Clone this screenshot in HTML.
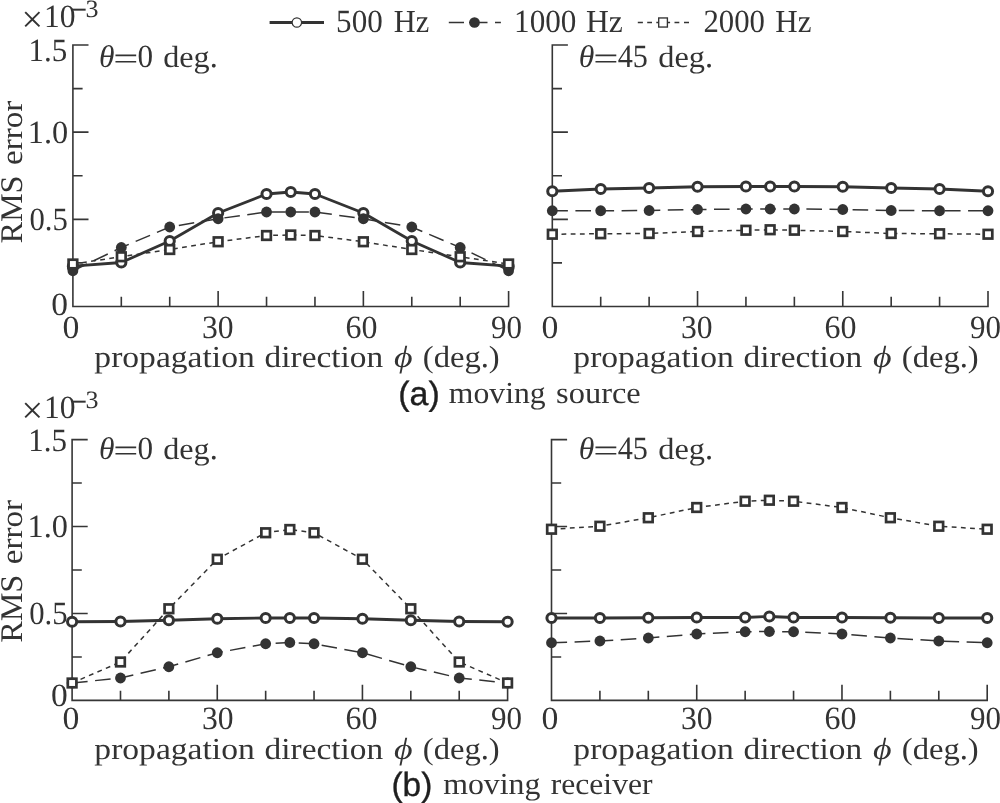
<!DOCTYPE html>
<html lang="en"><head><meta charset="utf-8"><title>RMS error vs propagation direction</title>
<style>
html,body{margin:0;padding:0;background:#fff}
svg{display:block}
text{fill:#333;font-family:"Liberation Serif", serif;font-size:30.5px;font-kerning:none;font-variant-ligatures:none;text-rendering:geometricPrecision}
.sans{font-family:"Liberation Sans", sans-serif;font-size:33.5px;fill:#1e1e1e;stroke:#1e1e1e;stroke-width:0.35px}
.sup{font-size:25.0px}
.d{font-size:32.5px}
.c{font-size:31.5px}
.h{font-size:32.0px}
.it{font-style:italic}
.ax{fill:none;stroke:#363636;stroke-width:1.6}
.lc{fill:none;stroke:#333;stroke-width:2.8;stroke-linejoin:round}
.lf{fill:none;stroke:#333;stroke-width:1.5;stroke-dasharray:15.6 7.5}
.ls{fill:none;stroke:#333;stroke-width:1.5;stroke-dasharray:4.8 4.4}
.mc{fill:#fff;stroke:#333;stroke-width:3.0}
.mf{fill:#333;stroke:none}
.ms{fill:#fff;stroke:#333;stroke-width:2.7}
</style></head>
<body>
<svg width="1000" height="803" viewBox="0 0 1000 803">
<rect width="1000" height="803" fill="#fff"/>
<g id="TL">
<path class="ax" d="M88.5 45H72.9V306.5H508.6V290.9M72.9 88.58h9.7M72.9 132.17h15.6M72.9 175.75h9.7M72.9 219.33h15.6M72.9 262.92h9.7M121.31 306.5v-9.7M169.72 306.5v-9.7M218.13 306.5v-15.6M266.54 306.5v-9.7M314.96 306.5v-9.7M363.37 306.5v-15.6M411.78 306.5v-9.7M460.19 306.5v-9.7"/>
<polyline class="lc" points="72.9,266.2 121.31,262.5 169.72,241 218.13,213 266.54,194 290.75,192 314.96,194 363.37,213 411.78,241 460.19,262.5 508.6,266.2"/>
<circle class="mc" cx="72.9" cy="266.2" r="4.6"/><circle class="mc" cx="121.31" cy="262.5" r="4.6"/><circle class="mc" cx="169.72" cy="241" r="4.6"/><circle class="mc" cx="218.13" cy="213" r="4.6"/><circle class="mc" cx="266.54" cy="194" r="4.6"/><circle class="mc" cx="290.75" cy="192" r="4.6"/><circle class="mc" cx="314.96" cy="194" r="4.6"/><circle class="mc" cx="363.37" cy="213" r="4.6"/><circle class="mc" cx="411.78" cy="241" r="4.6"/><circle class="mc" cx="460.19" cy="262.5" r="4.6"/><circle class="mc" cx="508.6" cy="266.2" r="4.6"/>
<polyline class="lf" points="72.9,270.75 121.31,247.5 169.72,227 218.13,218.75 266.54,212 290.75,212 314.96,212 363.37,218.75 411.78,227 460.19,247.5 508.6,270.75"/>
<circle class="mf" cx="72.9" cy="270.75" r="5.4"/><circle class="mf" cx="121.31" cy="247.5" r="5.4"/><circle class="mf" cx="169.72" cy="227" r="5.4"/><circle class="mf" cx="218.13" cy="218.75" r="5.4"/><circle class="mf" cx="266.54" cy="212" r="5.4"/><circle class="mf" cx="290.75" cy="212" r="5.4"/><circle class="mf" cx="314.96" cy="212" r="5.4"/><circle class="mf" cx="363.37" cy="218.75" r="5.4"/><circle class="mf" cx="411.78" cy="227" r="5.4"/><circle class="mf" cx="460.19" cy="247.5" r="5.4"/><circle class="mf" cx="508.6" cy="270.75" r="5.4"/>
<polyline class="ls" points="72.9,264 121.31,256.75 169.72,249.5 218.13,241.75 266.54,235.5 290.75,235 314.96,235.5 363.37,241.75 411.78,249.5 460.19,256.75 508.6,264"/>
<rect class="ms" x="68.6" y="259.7" width="8.6" height="8.6"/><rect class="ms" x="117.01" y="252.45" width="8.6" height="8.6"/><rect class="ms" x="165.42" y="245.2" width="8.6" height="8.6"/><rect class="ms" x="213.83" y="237.45" width="8.6" height="8.6"/><rect class="ms" x="262.24" y="231.2" width="8.6" height="8.6"/><rect class="ms" x="286.45" y="230.7" width="8.6" height="8.6"/><rect class="ms" x="310.66" y="231.2" width="8.6" height="8.6"/><rect class="ms" x="359.07" y="237.45" width="8.6" height="8.6"/><rect class="ms" x="407.48" y="245.2" width="8.6" height="8.6"/><rect class="ms" x="455.89" y="252.45" width="8.6" height="8.6"/><rect class="ms" x="504.3" y="259.7" width="8.6" height="8.6"/>
</g>
<g id="TR">
<path class="ax" d="M567.9 45H552.3V306.5H988V290.9M552.3 88.58h9.7M552.3 132.17h15.6M552.3 175.75h9.7M552.3 219.33h15.6M552.3 262.92h9.7M600.71 306.5v-9.7M649.12 306.5v-9.7M697.53 306.5v-15.6M745.94 306.5v-9.7M794.36 306.5v-9.7M842.77 306.5v-15.6M891.18 306.5v-9.7M939.59 306.5v-9.7"/>
<polyline class="lc" points="552.3,191.25 600.71,189 649.12,188 697.53,186.75 745.94,186.5 770.15,186.5 794.36,186.5 842.77,186.75 891.18,188 939.59,189 988,191.25"/>
<circle class="mc" cx="552.3" cy="191.25" r="4.6"/><circle class="mc" cx="600.71" cy="189" r="4.6"/><circle class="mc" cx="649.12" cy="188" r="4.6"/><circle class="mc" cx="697.53" cy="186.75" r="4.6"/><circle class="mc" cx="745.94" cy="186.5" r="4.6"/><circle class="mc" cx="770.15" cy="186.5" r="4.6"/><circle class="mc" cx="794.36" cy="186.5" r="4.6"/><circle class="mc" cx="842.77" cy="186.75" r="4.6"/><circle class="mc" cx="891.18" cy="188" r="4.6"/><circle class="mc" cx="939.59" cy="189" r="4.6"/><circle class="mc" cx="988" cy="191.25" r="4.6"/>
<polyline class="lf" points="552.3,210.75 600.71,210.75 649.12,210.5 697.53,209.5 745.94,209 770.15,209 794.36,209 842.77,209.5 891.18,210.5 939.59,210.75 988,210.75"/>
<circle class="mf" cx="552.3" cy="210.75" r="5.4"/><circle class="mf" cx="600.71" cy="210.75" r="5.4"/><circle class="mf" cx="649.12" cy="210.5" r="5.4"/><circle class="mf" cx="697.53" cy="209.5" r="5.4"/><circle class="mf" cx="745.94" cy="209" r="5.4"/><circle class="mf" cx="770.15" cy="209" r="5.4"/><circle class="mf" cx="794.36" cy="209" r="5.4"/><circle class="mf" cx="842.77" cy="209.5" r="5.4"/><circle class="mf" cx="891.18" cy="210.5" r="5.4"/><circle class="mf" cx="939.59" cy="210.75" r="5.4"/><circle class="mf" cx="988" cy="210.75" r="5.4"/>
<polyline class="ls" points="552.3,234.25 600.71,233.75 649.12,233.5 697.53,231.5 745.94,230.25 770.15,229.75 794.36,230.25 842.77,231.5 891.18,233.5 939.59,233.75 988,234.25"/>
<rect class="ms" x="548" y="229.95" width="8.6" height="8.6"/><rect class="ms" x="596.41" y="229.45" width="8.6" height="8.6"/><rect class="ms" x="644.82" y="229.2" width="8.6" height="8.6"/><rect class="ms" x="693.23" y="227.2" width="8.6" height="8.6"/><rect class="ms" x="741.64" y="225.95" width="8.6" height="8.6"/><rect class="ms" x="765.85" y="225.45" width="8.6" height="8.6"/><rect class="ms" x="790.06" y="225.95" width="8.6" height="8.6"/><rect class="ms" x="838.47" y="227.2" width="8.6" height="8.6"/><rect class="ms" x="886.88" y="229.2" width="8.6" height="8.6"/><rect class="ms" x="935.29" y="229.45" width="8.6" height="8.6"/><rect class="ms" x="983.7" y="229.95" width="8.6" height="8.6"/>
</g>
<g id="BL">
<path class="ax" d="M87.7 439.6H72.1V700.4H507.6V684.8M72.1 483.07h9.7M72.1 526.53h15.6M72.1 570h9.7M72.1 613.47h15.6M72.1 656.93h9.7M120.49 700.4v-9.7M168.88 700.4v-9.7M217.27 700.4v-15.6M265.66 700.4v-9.7M314.04 700.4v-9.7M362.43 700.4v-15.6M410.82 700.4v-9.7M459.21 700.4v-9.7"/>
<polyline class="lc" points="72.1,621.75 120.49,621.5 168.88,620.25 217.27,618.75 265.66,618 289.85,618 314.04,618 362.43,618.75 410.82,620.25 459.21,621.5 507.6,621.75"/>
<circle class="mc" cx="72.1" cy="621.75" r="4.6"/><circle class="mc" cx="120.49" cy="621.5" r="4.6"/><circle class="mc" cx="168.88" cy="620.25" r="4.6"/><circle class="mc" cx="217.27" cy="618.75" r="4.6"/><circle class="mc" cx="265.66" cy="618" r="4.6"/><circle class="mc" cx="289.85" cy="618" r="4.6"/><circle class="mc" cx="314.04" cy="618" r="4.6"/><circle class="mc" cx="362.43" cy="618.75" r="4.6"/><circle class="mc" cx="410.82" cy="620.25" r="4.6"/><circle class="mc" cx="459.21" cy="621.5" r="4.6"/><circle class="mc" cx="507.6" cy="621.75" r="4.6"/>
<polyline class="lf" points="72.1,683 120.49,678 168.88,666.75 217.27,652.75 265.66,643.75 289.85,642.5 314.04,643.75 362.43,652.75 410.82,666.75 459.21,678 507.6,683"/>
<circle class="mf" cx="72.1" cy="683" r="5.4"/><circle class="mf" cx="120.49" cy="678" r="5.4"/><circle class="mf" cx="168.88" cy="666.75" r="5.4"/><circle class="mf" cx="217.27" cy="652.75" r="5.4"/><circle class="mf" cx="265.66" cy="643.75" r="5.4"/><circle class="mf" cx="289.85" cy="642.5" r="5.4"/><circle class="mf" cx="314.04" cy="643.75" r="5.4"/><circle class="mf" cx="362.43" cy="652.75" r="5.4"/><circle class="mf" cx="410.82" cy="666.75" r="5.4"/><circle class="mf" cx="459.21" cy="678" r="5.4"/><circle class="mf" cx="507.6" cy="683" r="5.4"/>
<polyline class="ls" points="72.1,683 120.49,662 168.88,608.75 217.27,559.25 265.66,532.75 289.85,529.5 314.04,532.75 362.43,559.25 410.82,608.75 459.21,662 507.6,683"/>
<rect class="ms" x="67.8" y="678.7" width="8.6" height="8.6"/><rect class="ms" x="116.19" y="657.7" width="8.6" height="8.6"/><rect class="ms" x="164.58" y="604.45" width="8.6" height="8.6"/><rect class="ms" x="212.97" y="554.95" width="8.6" height="8.6"/><rect class="ms" x="261.36" y="528.45" width="8.6" height="8.6"/><rect class="ms" x="285.55" y="525.2" width="8.6" height="8.6"/><rect class="ms" x="309.74" y="528.45" width="8.6" height="8.6"/><rect class="ms" x="358.13" y="554.95" width="8.6" height="8.6"/><rect class="ms" x="406.52" y="604.45" width="8.6" height="8.6"/><rect class="ms" x="454.91" y="657.7" width="8.6" height="8.6"/><rect class="ms" x="503.3" y="678.7" width="8.6" height="8.6"/>
</g>
<g id="BR">
<path class="ax" d="M567.1 439.6H551.5V700.4H987.2V684.8M551.5 483.07h9.7M551.5 526.53h15.6M551.5 570h9.7M551.5 613.47h15.6M551.5 656.93h9.7M599.91 700.4v-9.7M648.32 700.4v-9.7M696.73 700.4v-15.6M745.14 700.4v-9.7M793.56 700.4v-9.7M841.97 700.4v-15.6M890.38 700.4v-9.7M938.79 700.4v-9.7"/>
<polyline class="lc" points="551.5,618 599.91,618 648.32,617.75 696.73,617.5 745.14,617.5 769.35,616.5 793.56,617.5 841.97,617.5 890.38,617.75 938.79,618 987.2,618"/>
<circle class="mc" cx="551.5" cy="618" r="4.6"/><circle class="mc" cx="599.91" cy="618" r="4.6"/><circle class="mc" cx="648.32" cy="617.75" r="4.6"/><circle class="mc" cx="696.73" cy="617.5" r="4.6"/><circle class="mc" cx="745.14" cy="617.5" r="4.6"/><circle class="mc" cx="769.35" cy="616.5" r="4.6"/><circle class="mc" cx="793.56" cy="617.5" r="4.6"/><circle class="mc" cx="841.97" cy="617.5" r="4.6"/><circle class="mc" cx="890.38" cy="617.75" r="4.6"/><circle class="mc" cx="938.79" cy="618" r="4.6"/><circle class="mc" cx="987.2" cy="618" r="4.6"/>
<polyline class="lf" points="551.5,642.75 599.91,641 648.32,638 696.73,634 745.14,631.75 769.35,631.5 793.56,631.75 841.97,634 890.38,638 938.79,641 987.2,642.75"/>
<circle class="mf" cx="551.5" cy="642.75" r="5.4"/><circle class="mf" cx="599.91" cy="641" r="5.4"/><circle class="mf" cx="648.32" cy="638" r="5.4"/><circle class="mf" cx="696.73" cy="634" r="5.4"/><circle class="mf" cx="745.14" cy="631.75" r="5.4"/><circle class="mf" cx="769.35" cy="631.5" r="5.4"/><circle class="mf" cx="793.56" cy="631.75" r="5.4"/><circle class="mf" cx="841.97" cy="634" r="5.4"/><circle class="mf" cx="890.38" cy="638" r="5.4"/><circle class="mf" cx="938.79" cy="641" r="5.4"/><circle class="mf" cx="987.2" cy="642.75" r="5.4"/>
<polyline class="ls" points="551.5,529.25 599.91,526.25 648.32,517.75 696.73,507.5 745.14,501.25 769.35,500.25 793.56,501.25 841.97,507.5 890.38,517.75 938.79,526.25 987.2,529.25"/>
<rect class="ms" x="547.2" y="524.95" width="8.6" height="8.6"/><rect class="ms" x="595.61" y="521.95" width="8.6" height="8.6"/><rect class="ms" x="644.02" y="513.45" width="8.6" height="8.6"/><rect class="ms" x="692.43" y="503.2" width="8.6" height="8.6"/><rect class="ms" x="740.84" y="496.95" width="8.6" height="8.6"/><rect class="ms" x="765.05" y="495.95" width="8.6" height="8.6"/><rect class="ms" x="789.26" y="496.95" width="8.6" height="8.6"/><rect class="ms" x="837.67" y="503.2" width="8.6" height="8.6"/><rect class="ms" x="886.08" y="513.45" width="8.6" height="8.6"/><rect class="ms" x="934.49" y="521.95" width="8.6" height="8.6"/><rect class="ms" x="982.9" y="524.95" width="8.6" height="8.6"/>
</g>
<g id="legend">
<path class="lc" d="M269.6 22.5H324"/><circle cx="296.85" cy="22.5" r="4.7" fill="#fff" stroke="#333" stroke-width="1.15"/>
<path d="M448.8 22.5H464M469 22.5H487.5M495 22.5H500.9" fill="none" stroke="#333" stroke-width="1.5"/><circle cx="474.5" cy="22.5" r="5.35" fill="#333"/>
<path d="M637.8 22.5H642.9M647.2 22.5H652M656.3 22.5H670.1M674.5 22.5H679.3M684 22.5H689" fill="none" stroke="#333" stroke-width="1.5"/><rect x="658.7" y="17.95" width="8.7" height="9.1" fill="#fff" stroke="#333" stroke-width="1.35"/>
</g>
<g id="labels">
<text class="d" transform="translate(336.1 32.2) scale(0.9556 1)">500</text>
<text class="h" transform="translate(393.72 32) scale(0.9493 1)">Hz</text>
<text class="d" transform="translate(514.06 32.2) scale(0.9589 1)">1000</text>
<text class="h" transform="translate(586.09 32) scale(0.9859 1)">Hz</text>
<text class="d" transform="translate(703.45 32.2) scale(0.9465 1)">2000</text>
<text class="h" transform="translate(775.31 32) scale(0.969 1)">Hz</text>
<text class="d" transform="translate(21.57 32.14) scale(1.1801 1.1787)">×</text>
<text class="d" transform="translate(44.02 27) scale(0.9716 1)">10</text>
<text class="sup" transform="translate(71.36 23.23) scale(1.1175 1.6063)">−</text>
<text class="sup" transform="translate(85.5 16.75) scale(1.0409 1)">3</text>
<text class="d" transform="translate(28.48 61.2) scale(0.9535 1)">1.5</text>
<text class="d" transform="translate(27.76 142.7) scale(0.9937 1)">1.0</text>
<text class="d" transform="translate(29.43 229.8) scale(0.9444 1)">0.5</text>
<text class="d" transform="translate(51.32 315) scale(1.0309 1)">0</text>
<text class="c" transform="translate(21.9 242.6) rotate(-90) translate(-0.93 0) scale(1.0224 1)">RMS</text>
<text transform="translate(21.9 163.7) rotate(-90) translate(-1.29 0) scale(1.0848 1)">error</text>
<text class="d" transform="translate(62.61 337.6) scale(1.0382 1)">0</text>
<text class="d" transform="translate(201.99 337.6) scale(0.9728 1)">30</text>
<text class="d" transform="translate(345.53 337.6) scale(0.9844 1)">60</text>
<text class="d" transform="translate(491 337.6) scale(0.9532 1)">90</text>
<text transform="translate(94.36 366.5) scale(1.1007 1)">propagation</text>
<text transform="translate(264.6 366.5) scale(1.0932 1)">direction</text>
<text class="it" transform="translate(393.98 366.5) scale(1.176 1)">ϕ</text>
<text transform="translate(422.77 366.5) scale(1.0693 1)">(deg.)</text>
<text class="d" transform="translate(541.61 337.6) scale(1.0382 1)">0</text>
<text class="d" transform="translate(680.99 337.6) scale(0.9728 1)">30</text>
<text class="d" transform="translate(824.53 337.6) scale(0.9844 1)">60</text>
<text class="d" transform="translate(970 337.6) scale(0.9532 1)">90</text>
<text transform="translate(573.36 366.5) scale(1.1007 1)">propagation</text>
<text transform="translate(743.6 366.5) scale(1.0932 1)">direction</text>
<text class="it" transform="translate(872.98 366.5) scale(1.176 1)">ϕ</text>
<text transform="translate(901.77 366.5) scale(1.0693 1)">(deg.)</text>
<text class="it" transform="translate(99.06 66.99) scale(1.033 1.0266)">θ</text>
<text transform="translate(113.28 69.34) scale(1.4585 1.0361)">=</text>
<text class="d" transform="translate(137.61 67) scale(0.9583 1)">0</text>
<text transform="translate(163.24 67) scale(1.0546 1)">deg.</text>
<text class="it" transform="translate(578.65 66.99) scale(1.0409 1.0266)">θ</text>
<text transform="translate(593.17 69.34) scale(1.4655 1.0361)">=</text>
<text class="d" transform="translate(617.71 67) scale(0.9282 1)">45</text>
<text transform="translate(658.33 67) scale(1.0608 1)">deg.</text>
<text class="d" transform="translate(21.57 423.04) scale(1.1801 1.1787)">×</text>
<text class="d" transform="translate(44.02 418.3) scale(0.9716 1)">10</text>
<text class="sup" transform="translate(71.36 414.73) scale(1.1175 1.6063)">−</text>
<text class="sup" transform="translate(85.5 407.9) scale(1.0409 1)">3</text>
<text class="d" transform="translate(28.28 451) scale(0.9535 1)">1.5</text>
<text class="d" transform="translate(27.56 537) scale(0.9937 1)">1.0</text>
<text class="d" transform="translate(29.23 623.6) scale(0.9444 1)">0.5</text>
<text class="d" transform="translate(51.12 706.3) scale(1.0309 1)">0</text>
<text class="c" transform="translate(21.9 641.9) rotate(-90) translate(-0.93 0) scale(1.0224 1)">RMS</text>
<text transform="translate(21.9 563) rotate(-90) translate(-1.29 0) scale(1.0848 1)">error</text>
<text class="d" transform="translate(62.61 728.8) scale(1.0382 1)">0</text>
<text class="d" transform="translate(201.99 728.8) scale(0.9728 1)">30</text>
<text class="d" transform="translate(345.53 728.8) scale(0.9844 1)">60</text>
<text class="d" transform="translate(491 728.8) scale(0.9532 1)">90</text>
<text transform="translate(94.36 758.6) scale(1.1007 1)">propagation</text>
<text transform="translate(264.6 758.6) scale(1.0932 1)">direction</text>
<text class="it" transform="translate(393.98 758.6) scale(1.176 1)">ϕ</text>
<text transform="translate(422.77 758.6) scale(1.0693 1)">(deg.)</text>
<text class="d" transform="translate(541.61 728.8) scale(1.0382 1)">0</text>
<text class="d" transform="translate(680.99 728.8) scale(0.9728 1)">30</text>
<text class="d" transform="translate(824.53 728.8) scale(0.9844 1)">60</text>
<text class="d" transform="translate(970 728.8) scale(0.9532 1)">90</text>
<text transform="translate(573.36 758.6) scale(1.1007 1)">propagation</text>
<text transform="translate(743.6 758.6) scale(1.0932 1)">direction</text>
<text class="it" transform="translate(872.98 758.6) scale(1.176 1)">ϕ</text>
<text transform="translate(901.77 758.6) scale(1.0693 1)">(deg.)</text>
<text class="it" transform="translate(99.06 458.69) scale(1.033 1.0266)">θ</text>
<text transform="translate(113.28 461.04) scale(1.4585 1.0361)">=</text>
<text class="d" transform="translate(137.61 458.7) scale(0.9583 1)">0</text>
<text transform="translate(163.24 458.7) scale(1.0546 1)">deg.</text>
<text class="it" transform="translate(578.65 458.69) scale(1.0409 1.0266)">θ</text>
<text transform="translate(593.17 461.04) scale(1.4655 1.0361)">=</text>
<text class="d" transform="translate(617.71 458.7) scale(0.9282 1)">45</text>
<text transform="translate(658.33 458.7) scale(1.0608 1)">deg.</text>
<text class="sans" transform="translate(398.19 404.6) scale(1.0139 1)">(a)</text>
<text transform="translate(448.84 402.9) scale(1.0383 1)">moving</text>
<text transform="translate(556.07 402.9) scale(1.0635 1)">source</text>
<text class="sans" transform="translate(391.43 795.7) scale(0.9976 1)">(b)</text>
<text transform="translate(443.13 794.2) scale(1.0437 1)">moving</text>
<text transform="translate(550.77 794.2) scale(1.0359 1)">receiver</text>
</g>
</svg>
</body></html>
